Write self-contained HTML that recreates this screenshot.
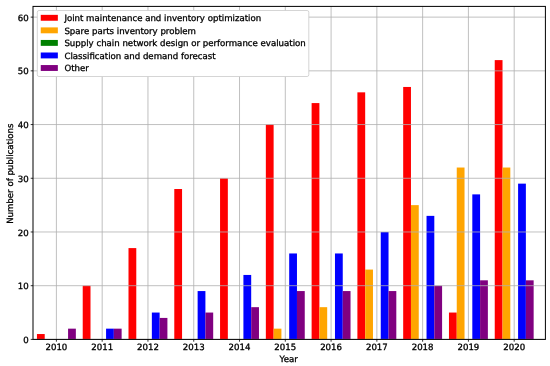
<!DOCTYPE html>
<html><head><meta charset="utf-8"><title>Number of publications per year</title>
<style>html,body{margin:0;padding:0;background:#fff}body{width:550px;height:366px;overflow:hidden}svg{display:block}text{font-family:"DejaVu Sans","Liberation Sans",sans-serif;font-size:8.6px;fill:#000;stroke:#000;stroke-width:0.3px;text-rendering:geometricPrecision}</style></head><body>
<svg width="550" height="366" viewBox="0 0 550 366">
<rect x="0" y="0" width="550" height="366" fill="#fff"/>
<g>
<rect x="36.94" y="334.03" width="7.78" height="5.37" fill="#ff0000"/>
<rect x="68.07" y="328.66" width="7.78" height="10.74" fill="#800080"/>
<rect x="82.72" y="285.69" width="7.78" height="53.71" fill="#ff0000"/>
<rect x="106.07" y="328.66" width="7.78" height="10.74" fill="#0000ff"/>
<rect x="113.85" y="328.66" width="7.78" height="10.74" fill="#800080"/>
<rect x="128.5" y="248.09" width="7.78" height="91.31" fill="#ff0000"/>
<rect x="151.85" y="312.55" width="7.78" height="26.85" fill="#0000ff"/>
<rect x="159.63" y="317.92" width="7.78" height="21.48" fill="#800080"/>
<rect x="174.28" y="189.01" width="7.78" height="150.39" fill="#ff0000"/>
<rect x="197.63" y="291.06" width="7.78" height="48.34" fill="#0000ff"/>
<rect x="205.41" y="312.55" width="7.78" height="26.85" fill="#800080"/>
<rect x="220.06" y="178.27" width="7.78" height="161.13" fill="#ff0000"/>
<rect x="243.41" y="274.95" width="7.78" height="64.45" fill="#0000ff"/>
<rect x="251.19" y="307.17" width="7.78" height="32.23" fill="#800080"/>
<rect x="265.84" y="124.56" width="7.78" height="214.84" fill="#ff0000"/>
<rect x="273.63" y="328.66" width="7.78" height="10.74" fill="#ffa500"/>
<rect x="289.19" y="253.46" width="7.78" height="85.94" fill="#0000ff"/>
<rect x="296.97" y="291.06" width="7.78" height="48.34" fill="#800080"/>
<rect x="311.62" y="103.08" width="7.78" height="236.32" fill="#ff0000"/>
<rect x="319.41" y="307.17" width="7.78" height="32.23" fill="#ffa500"/>
<rect x="334.97" y="253.46" width="7.78" height="85.94" fill="#0000ff"/>
<rect x="342.75" y="291.06" width="7.78" height="48.34" fill="#800080"/>
<rect x="357.4" y="92.34" width="7.78" height="247.06" fill="#ff0000"/>
<rect x="365.19" y="269.58" width="7.78" height="69.82" fill="#ffa500"/>
<rect x="380.75" y="231.98" width="7.78" height="107.42" fill="#0000ff"/>
<rect x="388.53" y="291.06" width="7.78" height="48.34" fill="#800080"/>
<rect x="403.18" y="86.96" width="7.78" height="252.44" fill="#ff0000"/>
<rect x="410.97" y="205.13" width="7.78" height="134.27" fill="#ffa500"/>
<rect x="426.53" y="215.87" width="7.78" height="123.53" fill="#0000ff"/>
<rect x="434.31" y="285.69" width="7.78" height="53.71" fill="#800080"/>
<rect x="448.96" y="312.55" width="7.78" height="26.85" fill="#ff0000"/>
<rect x="456.75" y="167.53" width="7.78" height="171.87" fill="#ffa500"/>
<rect x="472.31" y="194.38" width="7.78" height="145.02" fill="#0000ff"/>
<rect x="480.09" y="280.32" width="7.78" height="59.08" fill="#800080"/>
<rect x="494.74" y="60.11" width="7.78" height="279.29" fill="#ff0000"/>
<rect x="502.53" y="167.53" width="7.78" height="171.87" fill="#ffa500"/>
<rect x="518.09" y="183.64" width="7.78" height="155.76" fill="#0000ff"/>
<rect x="525.87" y="280.32" width="7.78" height="59.08" fill="#800080"/>
</g>
<g stroke="#b0b0b0" stroke-width="0.8" fill="none">
<line x1="56.4" y1="6.4" x2="56.4" y2="339.4"/>
<line x1="102.18" y1="6.4" x2="102.18" y2="339.4"/>
<line x1="147.96" y1="6.4" x2="147.96" y2="339.4"/>
<line x1="193.74" y1="6.4" x2="193.74" y2="339.4"/>
<line x1="239.52" y1="6.4" x2="239.52" y2="339.4"/>
<line x1="285.3" y1="6.4" x2="285.3" y2="339.4"/>
<line x1="331.08" y1="6.4" x2="331.08" y2="339.4"/>
<line x1="376.86" y1="6.4" x2="376.86" y2="339.4"/>
<line x1="422.64" y1="6.4" x2="422.64" y2="339.4"/>
<line x1="468.42" y1="6.4" x2="468.42" y2="339.4"/>
<line x1="514.2" y1="6.4" x2="514.2" y2="339.4"/>
<line x1="33" y1="339.4" x2="545.4" y2="339.4"/>
<line x1="33" y1="285.69" x2="545.4" y2="285.69"/>
<line x1="33" y1="231.98" x2="545.4" y2="231.98"/>
<line x1="33" y1="178.27" x2="545.4" y2="178.27"/>
<line x1="33" y1="124.56" x2="545.4" y2="124.56"/>
<line x1="33" y1="70.85" x2="545.4" y2="70.85"/>
<line x1="33" y1="17.14" x2="545.4" y2="17.14"/>
</g>
<g stroke="#000" stroke-width="0.8" fill="none">
<line x1="56.4" y1="339.4" x2="56.4" y2="341.7"/>
<line x1="102.18" y1="339.4" x2="102.18" y2="341.7"/>
<line x1="147.96" y1="339.4" x2="147.96" y2="341.7"/>
<line x1="193.74" y1="339.4" x2="193.74" y2="341.7"/>
<line x1="239.52" y1="339.4" x2="239.52" y2="341.7"/>
<line x1="285.3" y1="339.4" x2="285.3" y2="341.7"/>
<line x1="331.08" y1="339.4" x2="331.08" y2="341.7"/>
<line x1="376.86" y1="339.4" x2="376.86" y2="341.7"/>
<line x1="422.64" y1="339.4" x2="422.64" y2="341.7"/>
<line x1="468.42" y1="339.4" x2="468.42" y2="341.7"/>
<line x1="514.2" y1="339.4" x2="514.2" y2="341.7"/>
<line x1="30.7" y1="339.4" x2="33" y2="339.4"/>
<line x1="30.7" y1="285.69" x2="33" y2="285.69"/>
<line x1="30.7" y1="231.98" x2="33" y2="231.98"/>
<line x1="30.7" y1="178.27" x2="33" y2="178.27"/>
<line x1="30.7" y1="124.56" x2="33" y2="124.56"/>
<line x1="30.7" y1="70.85" x2="33" y2="70.85"/>
<line x1="30.7" y1="17.14" x2="33" y2="17.14"/>
</g>
<rect x="33" y="6.4" width="512.4" height="333" fill="none" stroke="#000" stroke-width="1"/>
<g text-anchor="middle">
<text x="56.4" y="350.4">2010</text>
<text x="102.18" y="350.4">2011</text>
<text x="147.96" y="350.4">2012</text>
<text x="193.74" y="350.4">2013</text>
<text x="239.52" y="350.4">2014</text>
<text x="285.3" y="350.4">2015</text>
<text x="331.08" y="350.4">2016</text>
<text x="376.86" y="350.4">2017</text>
<text x="422.64" y="350.4">2018</text>
<text x="468.42" y="350.4">2019</text>
<text x="514.2" y="350.4">2020</text>
</g>
<g text-anchor="end">
<text x="28.7" y="342.95">0</text>
<text x="28.7" y="289.24">10</text>
<text x="28.7" y="235.53">20</text>
<text x="28.7" y="181.82">30</text>
<text x="28.7" y="128.11">40</text>
<text x="28.7" y="74.4">50</text>
<text x="28.7" y="20.69">60</text>
</g>
<text x="288.7" y="361.7" text-anchor="middle">Year</text>
<text transform="translate(13.4,173.7) rotate(-90)" text-anchor="middle">Number of publications</text>
<rect x="37.3" y="10.5" width="271.5" height="66" rx="1.7" ry="1.7" fill="#fff" stroke="#ccc" stroke-width="0.83"/>
<rect x="40.75" y="14.85" width="17.1" height="5.9" fill="#ff0000"/>
<text x="64.4" y="21.1">Joint maintenance and inventory optimization</text>
<rect x="40.75" y="27.4" width="17.1" height="5.9" fill="#ffa500"/>
<text x="64.4" y="33.65">Spare parts inventory problem</text>
<rect x="40.75" y="39.95" width="17.1" height="5.9" fill="#008000"/>
<text x="64.4" y="46.2">Supply chain network design or performance evaluation</text>
<rect x="40.75" y="52.5" width="17.1" height="5.9" fill="#0000ff"/>
<text x="64.4" y="58.75">Classification and demand forecast</text>
<rect x="40.75" y="65.05" width="17.1" height="5.9" fill="#800080"/>
<text x="64.4" y="71.3">Other</text>
</svg></body></html>
